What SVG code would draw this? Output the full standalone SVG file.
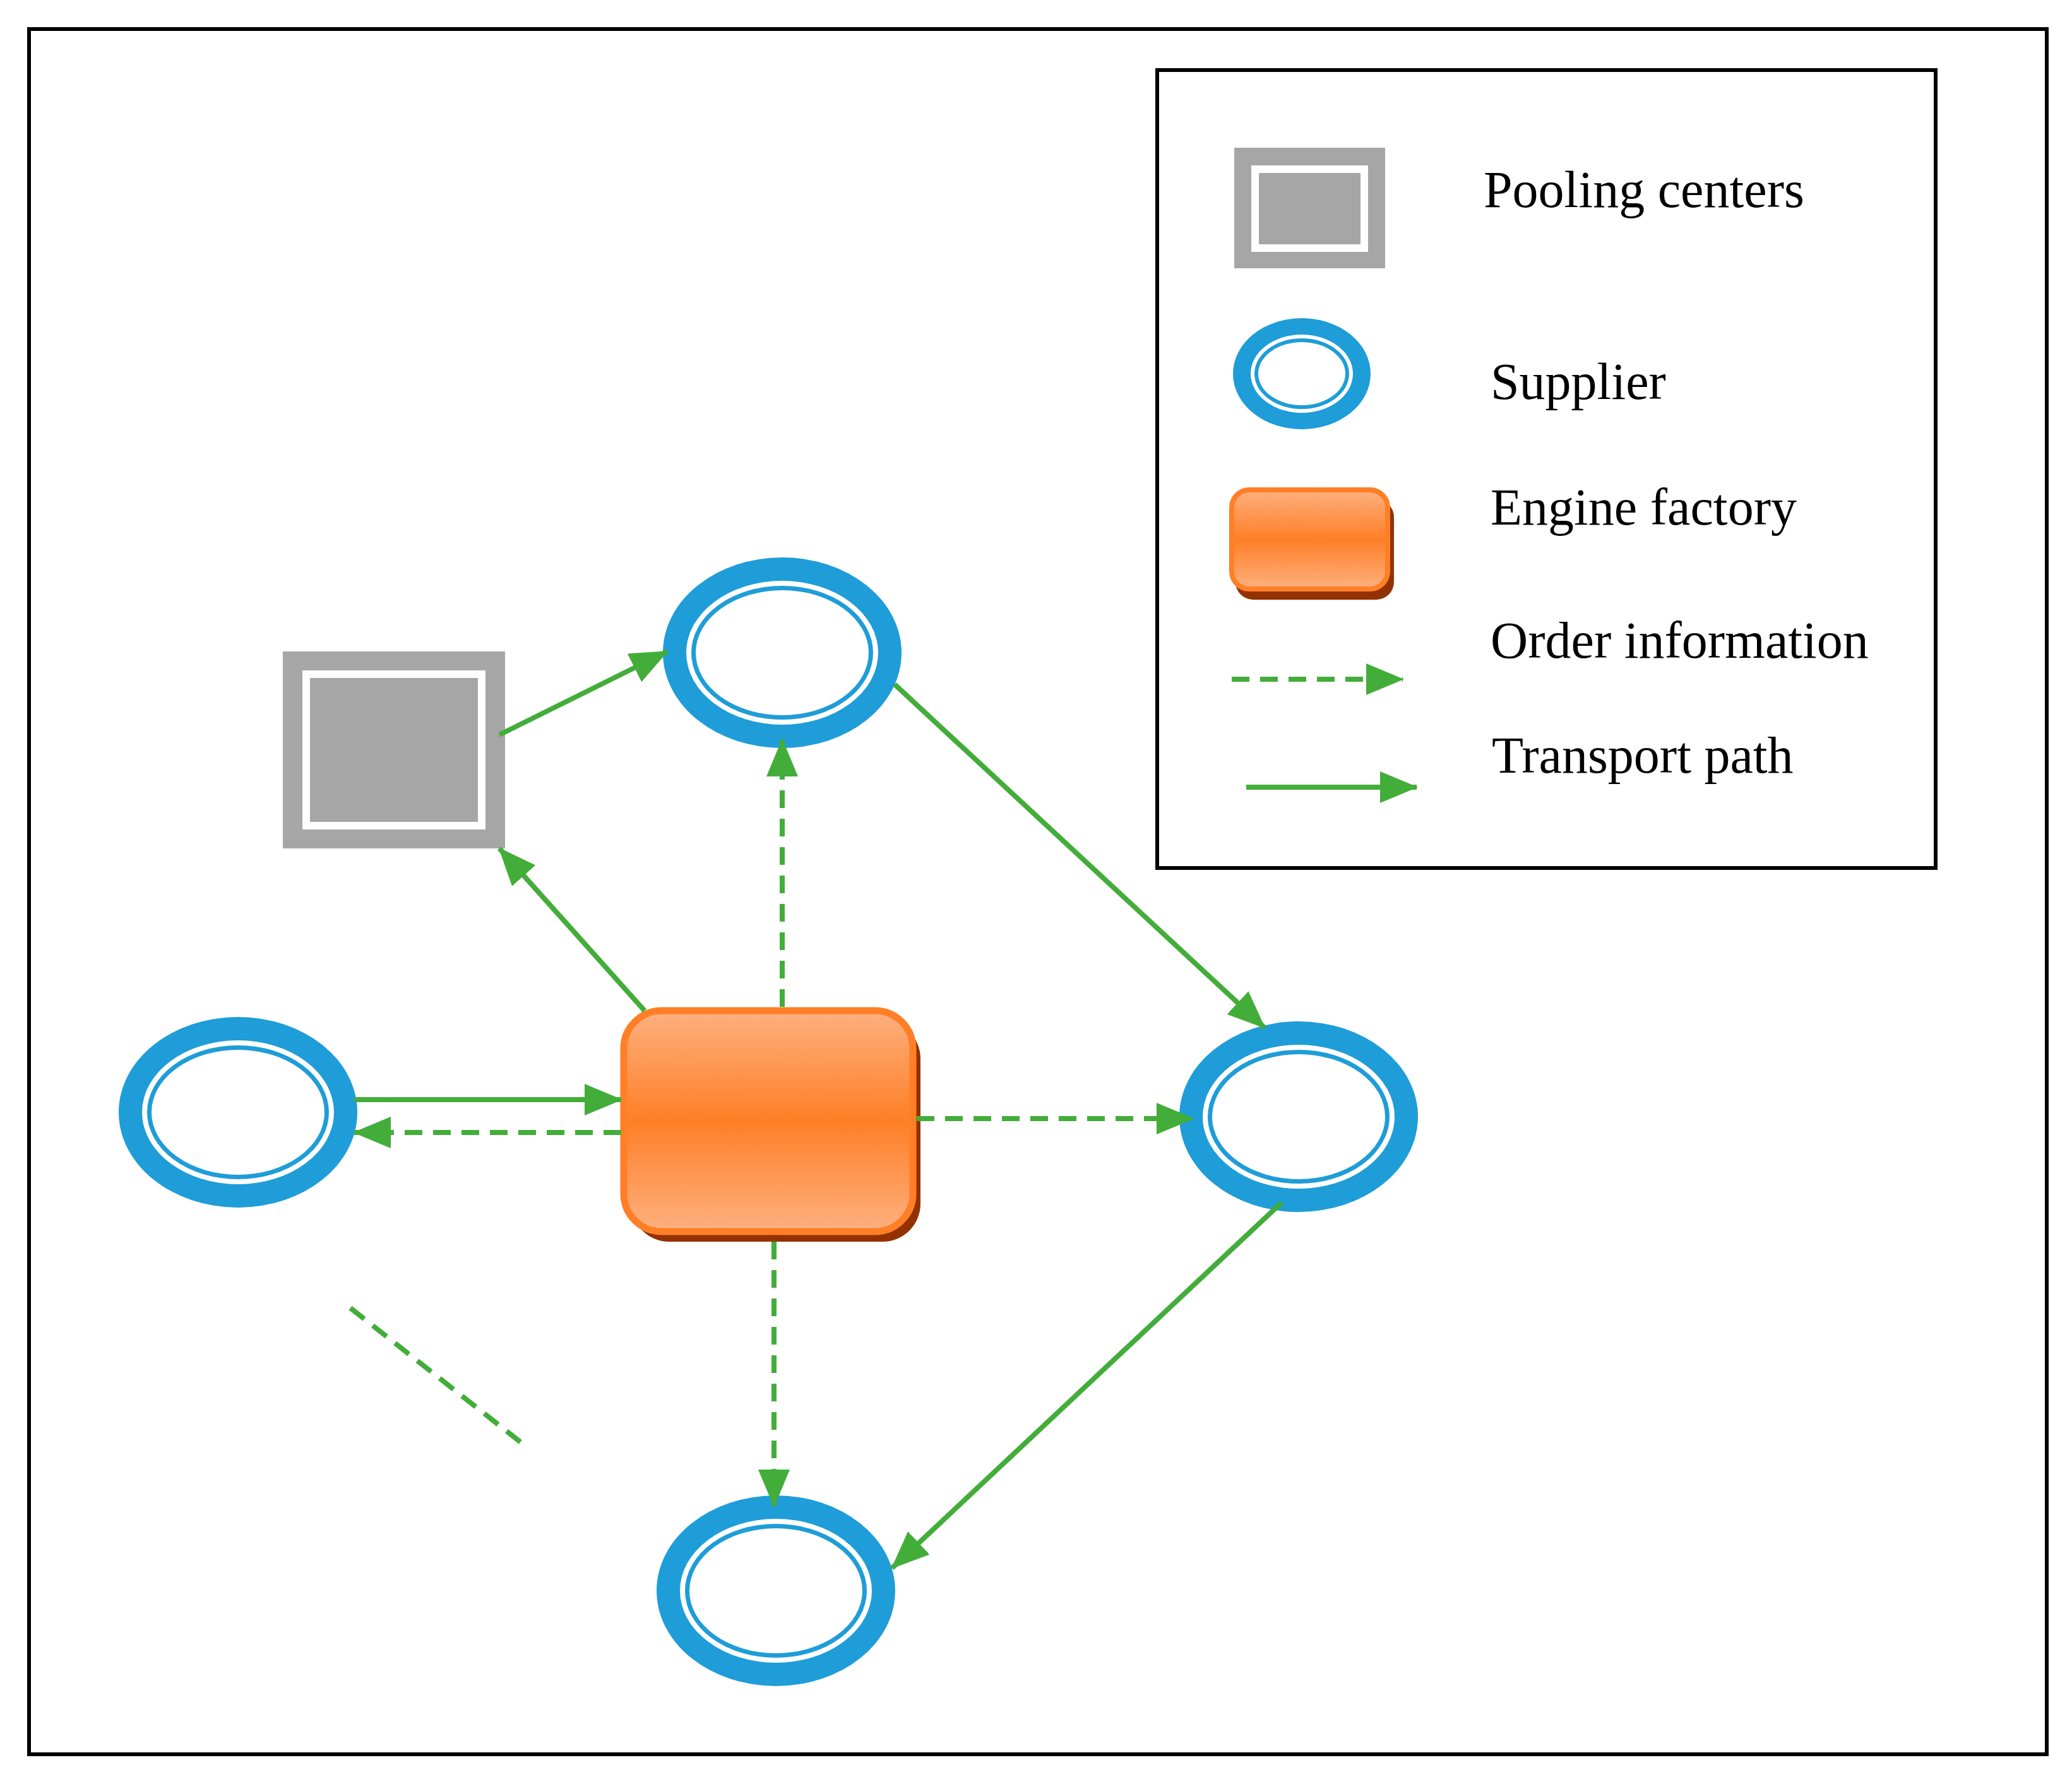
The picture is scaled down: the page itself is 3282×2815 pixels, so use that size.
<svg xmlns="http://www.w3.org/2000/svg" width="3282" height="2815" viewBox="0 0 3282 2815">
<style>
.c{stroke:#43AD3A;stroke-width:8;fill:none}
.d{stroke-dasharray:28 17}
.t{font-family:"Liberation Serif",serif;font-size:82px;fill:#000}
.ob{fill:#1E9DD8}.w{fill:#fff}
</style>
<defs>
<linearGradient id="g" x1="0" y1="0" x2="0" y2="1">
<stop offset="0" stop-color="#FDB07F"/><stop offset="0.5" stop-color="#FF7F27"/><stop offset="1" stop-color="#FDB07F"/>
</linearGradient>
<marker id="a" markerUnits="userSpaceOnUse" markerWidth="60" markerHeight="50" refX="58" refY="25" orient="auto">
<path d="M0,0L60,25L0,50Z" fill="#43AD3A"/>
</marker>
<g id="sup">
<ellipse rx="189" ry="151" class="ob"/>
<ellipse rx="152" ry="114" class="w"/>
<ellipse rx="144" ry="106" class="ob"/>
<ellipse rx="137" ry="99" class="w"/>
</g>
</defs>
<rect x="46" y="46" width="3196" height="2733" fill="#fff" stroke="#000" stroke-width="6"/>
<g id="legend">
<rect x="1833" y="111" width="1233" height="1264" fill="none" stroke="#000" stroke-width="6"/>
<rect x="1955" y="234" width="239" height="191" fill="#A6A6A6"/>
<rect x="1988" y="268" width="173" height="125" fill="#A6A6A6" stroke="#fff" stroke-width="12"/>
<ellipse cx="2062" cy="592" rx="109" ry="88" class="ob"/>
<ellipse cx="2062" cy="592" rx="81" ry="62" class="w"/>
<ellipse cx="2062" cy="592" rx="75" ry="56" class="ob"/>
<ellipse cx="2062" cy="592" rx="69" ry="50" class="w"/>
<rect x="1957" y="791" width="251" height="159" rx="28" fill="#933200"/>
<rect x="1951" y="776" width="247" height="157" rx="28" fill="url(#g)" stroke="#FF7F27" stroke-width="8"/>
<line x1="1951" y1="1076" x2="2222" y2="1076" class="c d" marker-end="url(#a)"/>
<line x1="1974" y1="1247" x2="2244" y2="1247" class="c" marker-end="url(#a)"/>
<text class="t" x="2350" y="328">Pooling centers</text>
<text class="t" x="2361" y="632">Supplier</text>
<text class="t" x="2361" y="831">Engine factory</text>
<text class="t" x="2361" y="1042">Order information</text>
<text class="t" x="2363" y="1224">Transport path</text>
</g>
<g id="pool">
<rect x="448" y="1032" width="352" height="312" fill="#A6A6A6"/>
<rect x="485" y="1068" width="278" height="240" fill="#A6A6A6" stroke="#fff" stroke-width="12"/>
</g>
<g id="factory">
<rect x="1000" y="1617" width="458" height="350" rx="60" fill="#933200"/>
<rect x="988" y="1601" width="458" height="350" rx="60" fill="url(#g)" stroke="#FF7F27" stroke-width="11"/>
</g>
<g id="s-top"><use href="#sup" x="1239" y="1034"/></g>
<g id="s-left"><use href="#sup" x="377" y="1762"/></g>
<g id="s-right"><use href="#sup" x="2057" y="1769"/></g>
<g id="s-bottom"><use href="#sup" x="1229" y="2520"/></g>
<g id="connectors">
<line x1="791" y1="1164" x2="1057" y2="1032" class="c" marker-end="url(#a)"/>
<line x1="1021" y1="1601" x2="791" y2="1344" class="c" marker-end="url(#a)"/>
<line x1="1239" y1="1595" x2="1239" y2="1172" class="c d" marker-end="url(#a)"/>
<line x1="1417" y1="1084" x2="2003" y2="1628" class="c" marker-end="url(#a)"/>
<line x1="561" y1="1742" x2="984" y2="1742" class="c" marker-end="url(#a)"/>
<line x1="984" y1="1794" x2="561" y2="1794" class="c d" marker-end="url(#a)"/>
<line x1="1452" y1="1772" x2="1890" y2="1772" class="c d" marker-end="url(#a)"/>
<line x1="1226" y1="1967" x2="1226" y2="2386" class="c d" marker-end="url(#a)"/>
<line x1="2030" y1="1905" x2="1413" y2="2484" class="c" marker-end="url(#a)"/>
<line x1="555" y1="2072" x2="829" y2="2288" class="c d"/>
</g>
</svg>
